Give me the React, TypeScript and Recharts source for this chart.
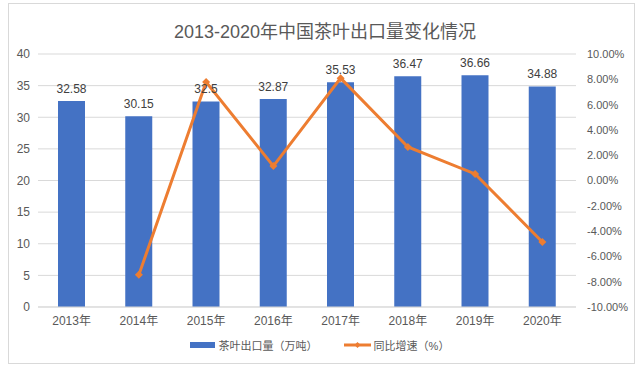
import React from 'react';
import {
  ComposedChart,
  Bar,
  Line,
  LabelList,
  CartesianGrid,
  XAxis,
  YAxis,
  Legend,
} from 'recharts';

const years = ['2013年', '2014年', '2015年', '2016年', '2017年', '2018年', '2019年', '2020年'];
const exportVolume = [32.58, 30.15, 32.5, 32.87, 35.53, 36.47, 36.66, 34.88];
const growthRate: (number | null)[] = [null, -7.46, 7.79, 1.14, 8.09, 2.65, 0.52, -4.86];
const leftTicks = [0, 5, 10, 15, 20, 25, 30, 35, 40];
const rightTicks = [-10, -8, -6, -4, -2, 0, 2, 4, 6, 8, 10];

const data = years.map((year, i) => ({
  year,
  volume: exportVolume[i],
  growth: growthRate[i],
}));

const BLUE = '#4472C4';
const ORANGE = '#ED7D31';
const FONT = '"Liberation Sans", "Noto Sans CJK SC", sans-serif';
const tickStyle = { fill: '#595959', fontSize: 12, fontFamily: FONT };

const Diamond = (props: any) => {
  const { cx, cy, index } = props;
  if (cx == null || cy == null) return <g key={`d-${index}`} />;
  const r = 4;
  return (
    <path
      key={`d-${index}`}
      d={`M${cx},${cy - r}L${cx + r},${cy}L${cx},${cy + r}L${cx - r},${cy}Z`}
      fill={ORANGE}
    />
  );
};

const renderLegend = () => (
  <div
    style={{
      display: 'flex',
      justifyContent: 'center',
      alignItems: 'center',
      fontSize: 11,
      color: '#595959',
      fontFamily: FONT,
      paddingLeft: 3,
    }}
  >
    <span style={{ display: 'inline-block', width: 25, height: 6, background: BLUE, marginRight: 4 }} />
    <span style={{ marginRight: 26 }}>茶叶出口量（万吨）</span>
    <svg width={27} height={8} style={{ marginRight: 3 }}>
      <line x1={0} y1={4} x2={27} y2={4} stroke={ORANGE} strokeWidth={3} />
      <path d="M13.5,1L16.5,4L13.5,7L10.5,4Z" fill={ORANGE} />
    </svg>
    <span>同比增速（%）</span>
  </div>
);

export default function App() {
  return (
    <div style={{ position: 'absolute', left: 0, top: 0, width: 643, height: 369, background: '#fff' }}>
      <div
        style={{
          position: 'absolute',
          left: 8,
          top: 3,
          width: 627,
          height: 361,
          border: '1px solid #d9d9d9',
          boxSizing: 'border-box',
        }}
      />
      <div
        style={{
          position: 'absolute',
          left: 0,
          top: 20,
          width: 650,
          textAlign: 'center',
          fontSize: 18,
          color: '#595959',
          fontFamily: FONT,
          lineHeight: '24px',
        }}
      >
        2013-2020年中国茶叶出口量变化情况
      </div>
      <ComposedChart
        width={643}
        height={369}
        data={data}
        margin={{ top: 54, right: 7, bottom: 16, left: 0 }}
        style={{ position: 'absolute', left: 0, top: 0 }}
      >
        <CartesianGrid vertical={false} stroke="#d9d9d9" yAxisId="left" />
        <XAxis
          dataKey="year"
          tick={tickStyle}
          tickLine={false}
          axisLine={{ stroke: '#d9d9d9' }}
          tickMargin={3}
          height={30}
        />
        <YAxis
          yAxisId="left"
          domain={[0, 40]}
          ticks={leftTicks}
          tick={tickStyle}
          tickLine={false}
          axisLine={false}
          width={38}
        />
        <YAxis
          yAxisId="right"
          orientation="right"
          domain={[-10, 10]}
          ticks={rightTicks}
          tickFormatter={(v: number) => `${v.toFixed(2)}%`}
          tick={{ ...tickStyle, fontSize: 11 }}
          tickLine={false}
          axisLine={false}
          tickMargin={5}
          width={60}
        />
        <Legend verticalAlign="bottom" content={renderLegend} />
        <Bar yAxisId="left" dataKey="volume" fill={BLUE} barSize={27} isAnimationActive={false}>
          <LabelList
            dataKey="volume"
            position="top"
            offset={8}
            style={{ fill: '#404040', fontSize: 12, fontFamily: FONT }}
          />
        </Bar>
        <Line
          yAxisId="right"
          dataKey="growth"
          type="linear"
          stroke={ORANGE}
          strokeWidth={3}
          dot={Diamond}
          activeDot={false}
          isAnimationActive={false}
        />
      </ComposedChart>
    </div>
  );
}
